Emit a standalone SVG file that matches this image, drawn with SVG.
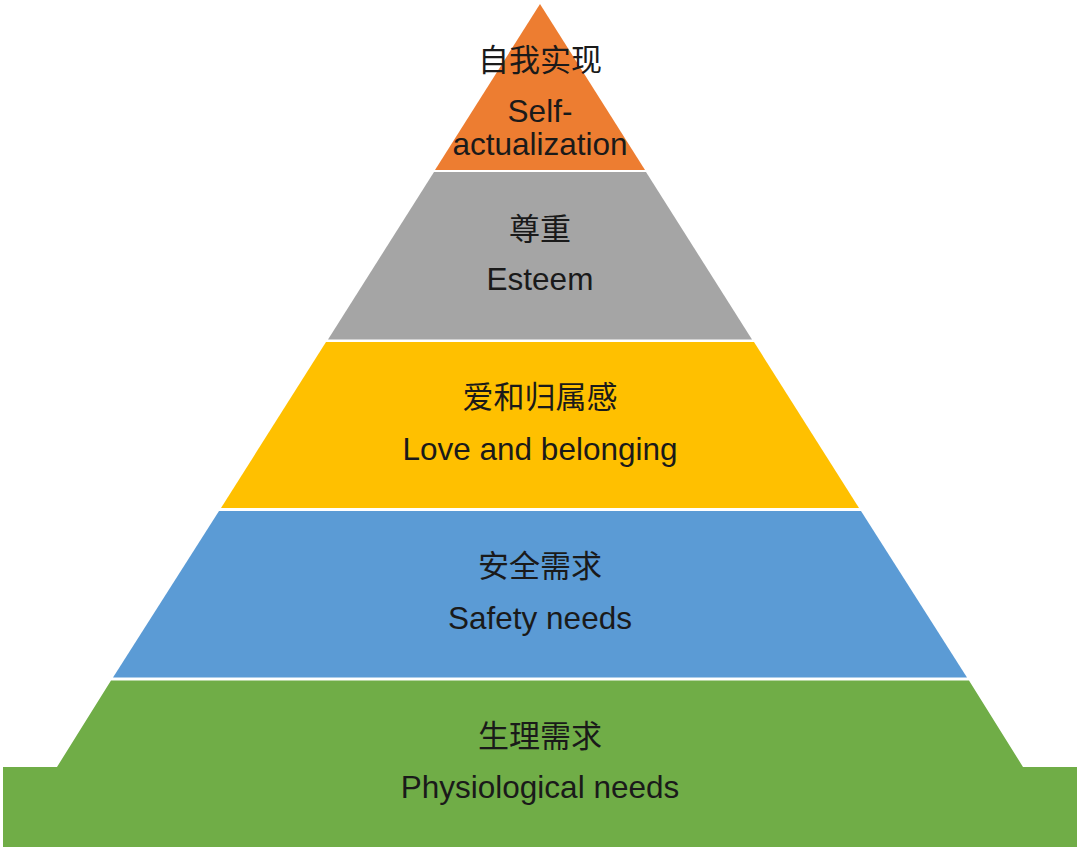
<svg xmlns="http://www.w3.org/2000/svg" width="1080" height="850" viewBox="0 0 1080 850">
<style>
.zh{font-family:"Noto Sans CJK SC","Liberation Sans",sans-serif;font-size:31px;fill:#1a1a1a;text-anchor:middle}
.en{font-family:"Liberation Sans",Arial,sans-serif;font-size:31.5px;fill:#1a1a1a;text-anchor:middle}
</style>
<rect width="1080" height="850" fill="#ffffff"/>
<g id="self-actualization">
<polygon points="540,4 645,170 435,170" fill="#ED7D31"/>
<text class="zh" x="540" y="71">自我实现</text>
<text class="en" x="540" y="122">Self-</text>
<text class="en" x="540" y="155">actualization</text>
</g>
<g id="esteem">
<polygon points="434,172 646,172 752,339.5 328,339.5" fill="#A5A5A5"/>
<text class="zh" x="540" y="240">尊重</text>
<text class="en" x="540" y="290">Esteem</text>
</g>
<g id="love">
<polygon points="326,342 754,342 859,508 221,508" fill="#FFC000"/>
<text class="zh" x="540" y="408">爱和归属感</text>
<text class="en" x="540" y="460">Love and belonging</text>
</g>
<g id="safety">
<polygon points="219,511 861,511 967,677.5 113,677.5" fill="#5B9BD5"/>
<text class="zh" x="540" y="577">安全需求</text>
<text class="en" x="540" y="629">Safety needs</text>
</g>
<g id="physiological">
<polygon points="111,680.5 969,680.5 1023,767 1077,767 1077,847 3,847 3,767 57,767" fill="#70AD47"/>
<text class="zh" x="540" y="747">生理需求</text>
<text class="en" x="540" y="798">Physiological needs</text>
</g>
<g id="connectors"></g>
</svg>
